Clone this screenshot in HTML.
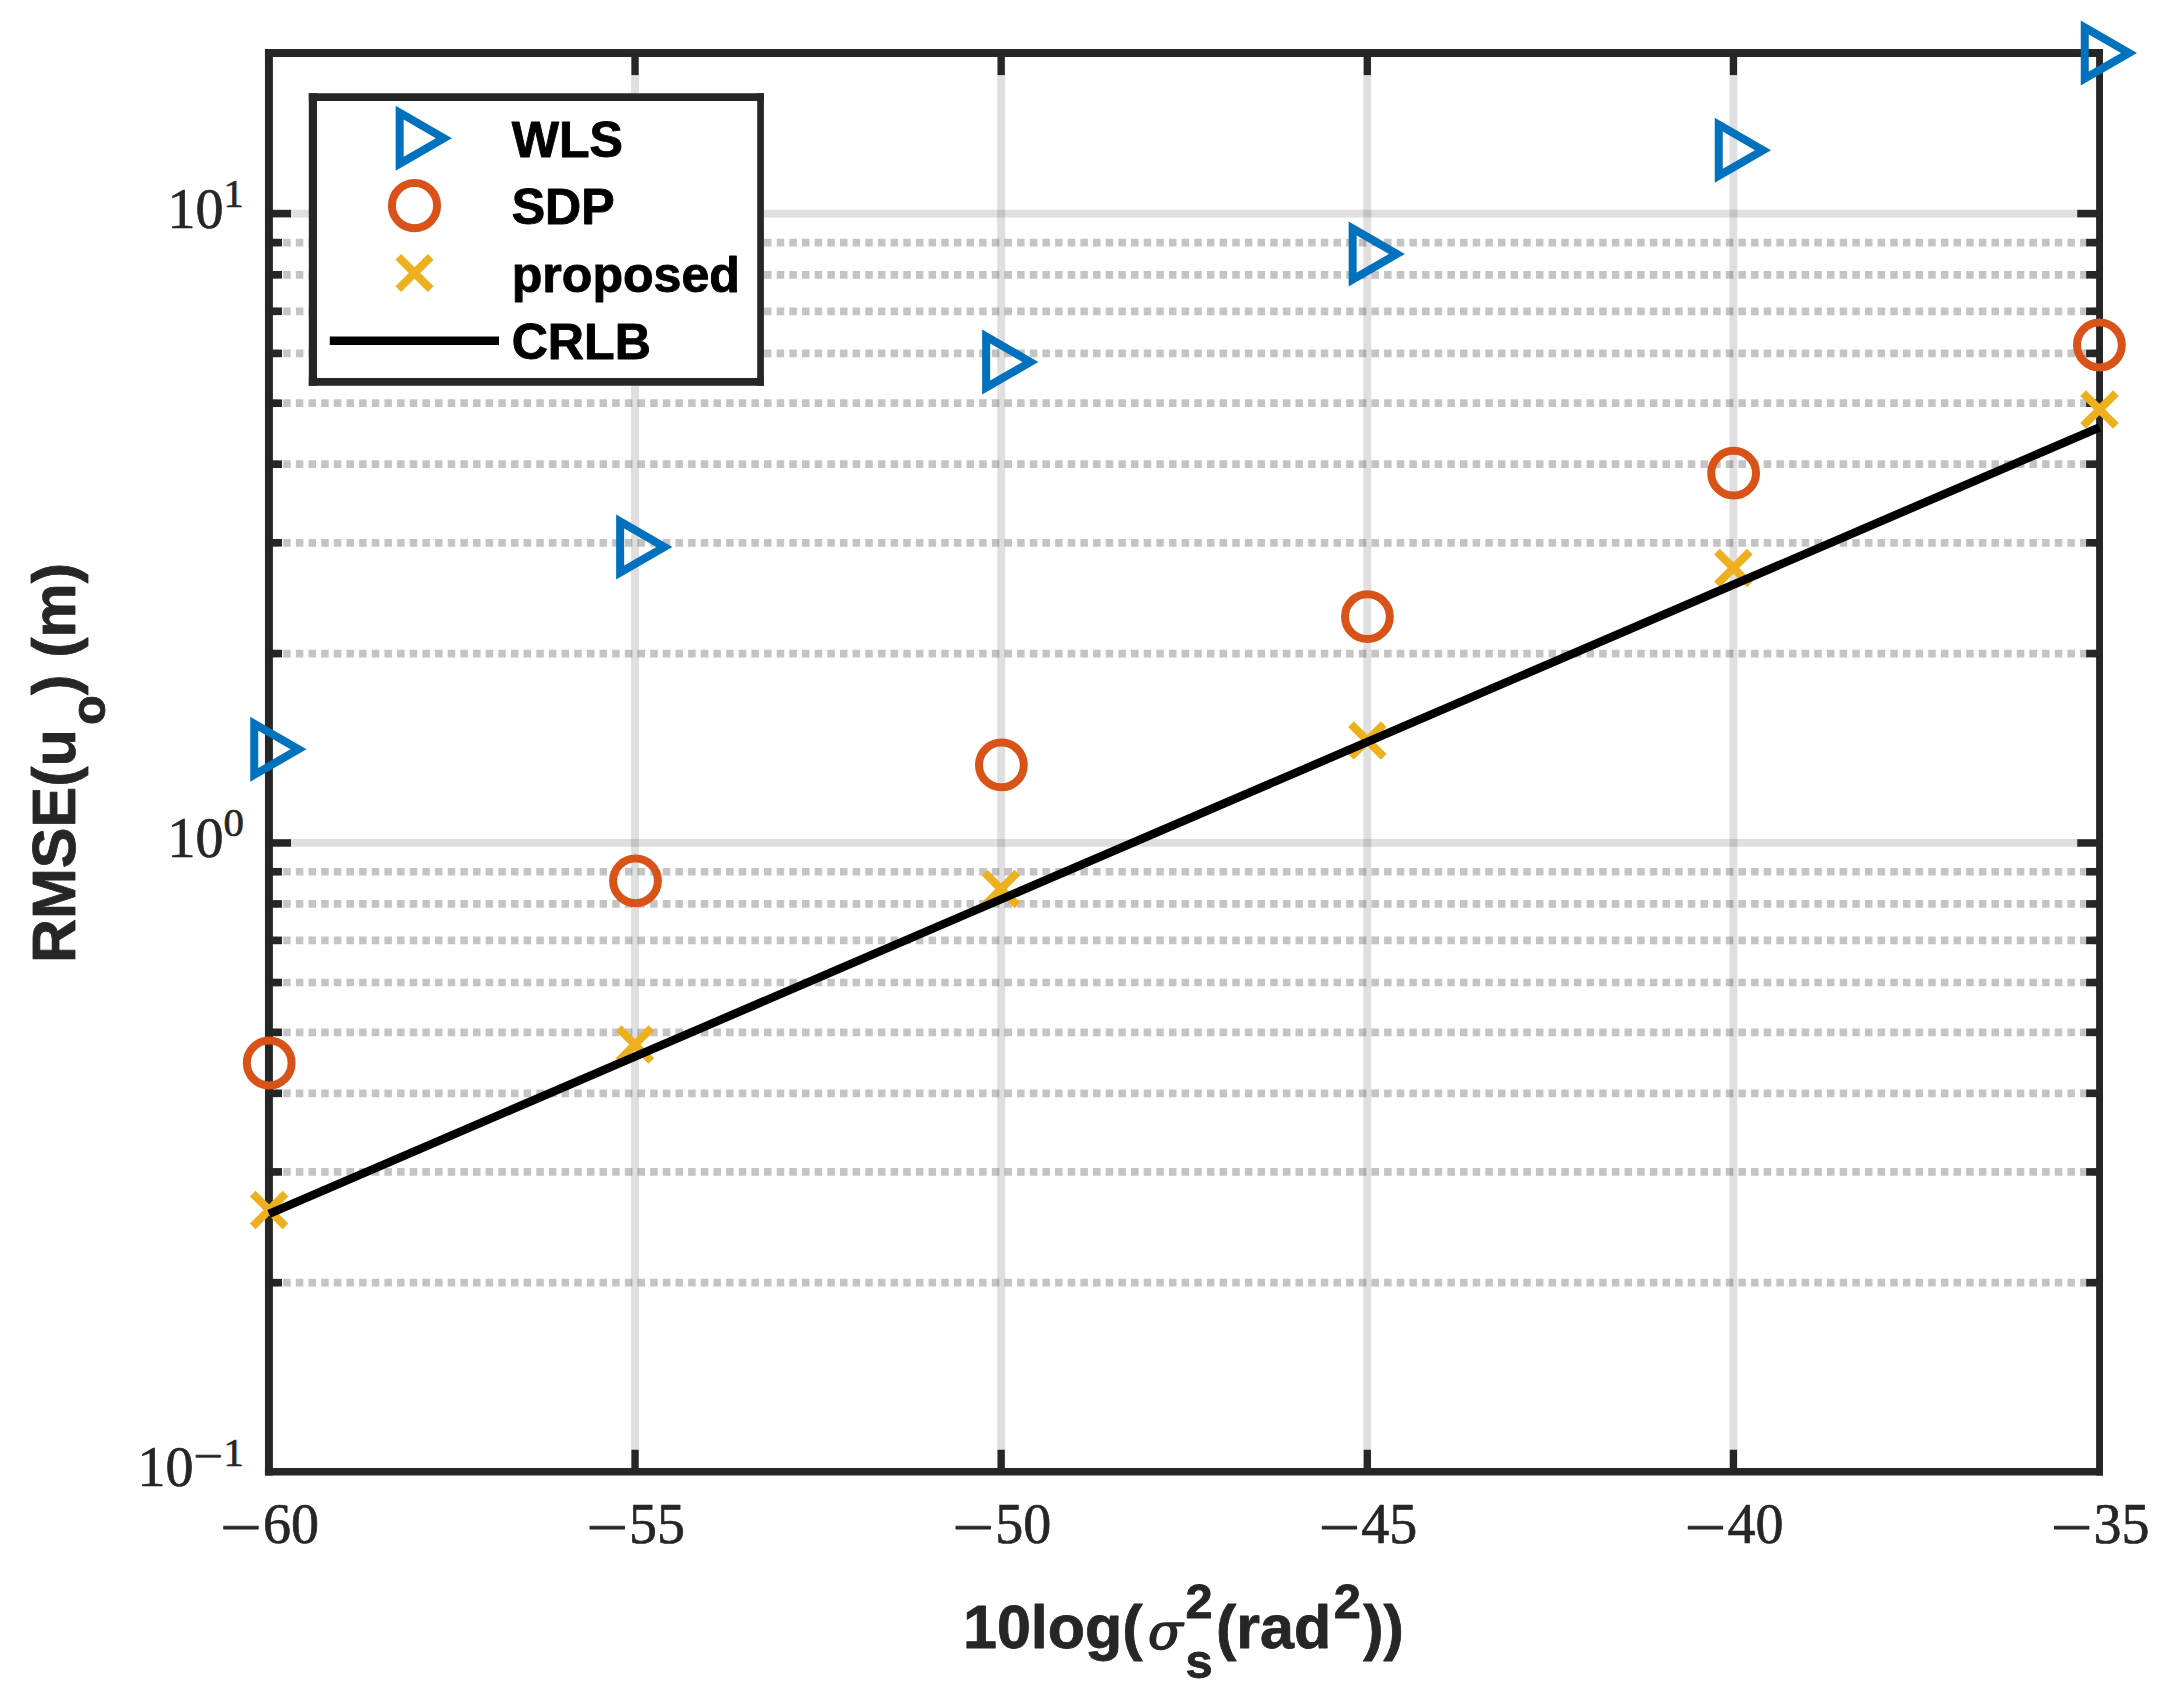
<!DOCTYPE html>
<html lang="en"><head><meta charset="utf-8"><title>RMSE vs noise</title>
<style>
html,body{margin:0;padding:0;background:#fff;}
body{width:2171px;height:1702px;overflow:hidden;}
svg{display:block;}
.tk{font-family:"Liberation Serif","DejaVu Serif",serif;fill:#262626;stroke:#262626;stroke-width:0.7px;stroke-linejoin:round;}
.lb{font-family:"Liberation Sans","DejaVu Sans",sans-serif;font-weight:bold;fill:#262626;stroke:#262626;stroke-width:0.8px;stroke-linejoin:round;}
.lg{font-family:"Liberation Sans","DejaVu Sans",sans-serif;font-weight:bold;fill:#000;stroke:#000;stroke-width:0.9px;stroke-linejoin:round;font-size:50.1px;}
.sg{font-family:"DejaVu Serif","Liberation Serif",serif;font-style:italic;font-weight:normal;font-size:51px;stroke-width:1.5px;}
</style></head><body>
<svg width="2171" height="1702" viewBox="0 0 2171 1702">
<rect x="0" y="0" width="2171" height="1702" fill="#fff"/>
<g id="grid" fill="none" stroke="#262626">
<line x1="635.05" y1="53.00" x2="635.05" y2="1471.85" stroke-width="7.9" stroke-opacity="0.15"/>
<line x1="1001.18" y1="53.00" x2="1001.18" y2="1471.85" stroke-width="7.9" stroke-opacity="0.15"/>
<line x1="1367.30" y1="53.00" x2="1367.30" y2="1471.85" stroke-width="7.9" stroke-opacity="0.15"/>
<line x1="1733.43" y1="53.00" x2="1733.43" y2="1471.85" stroke-width="7.9" stroke-opacity="0.15"/>
<line x1="268.93" y1="213.60" x2="2099.55" y2="213.60" stroke-width="7.7" stroke-opacity="0.15"/>
<line x1="268.93" y1="842.95" x2="2099.55" y2="842.95" stroke-width="7.7" stroke-opacity="0.15"/>
<line x1="270.55" y1="1282.69" x2="2099.55" y2="1282.69" stroke-width="7.7" stroke-opacity="0.27" stroke-dasharray="7.500 5.154"/>
<line x1="270.55" y1="1171.91" x2="2099.55" y2="1171.91" stroke-width="7.7" stroke-opacity="0.27" stroke-dasharray="7.500 5.154"/>
<line x1="270.55" y1="1093.30" x2="2099.55" y2="1093.30" stroke-width="7.7" stroke-opacity="0.27" stroke-dasharray="7.500 5.154"/>
<line x1="270.55" y1="1032.34" x2="2099.55" y2="1032.34" stroke-width="7.7" stroke-opacity="0.27" stroke-dasharray="7.500 5.154"/>
<line x1="270.55" y1="982.52" x2="2099.55" y2="982.52" stroke-width="7.7" stroke-opacity="0.27" stroke-dasharray="7.500 5.154"/>
<line x1="270.55" y1="940.40" x2="2099.55" y2="940.40" stroke-width="7.7" stroke-opacity="0.27" stroke-dasharray="7.500 5.154"/>
<line x1="270.55" y1="903.92" x2="2099.55" y2="903.92" stroke-width="7.7" stroke-opacity="0.27" stroke-dasharray="7.500 5.154"/>
<line x1="270.55" y1="871.74" x2="2099.55" y2="871.74" stroke-width="7.7" stroke-opacity="0.27" stroke-dasharray="7.500 5.154"/>
<line x1="270.55" y1="653.56" x2="2099.55" y2="653.56" stroke-width="7.7" stroke-opacity="0.27" stroke-dasharray="7.500 5.154"/>
<line x1="270.55" y1="542.78" x2="2099.55" y2="542.78" stroke-width="7.7" stroke-opacity="0.27" stroke-dasharray="7.500 5.154"/>
<line x1="270.55" y1="464.18" x2="2099.55" y2="464.18" stroke-width="7.7" stroke-opacity="0.27" stroke-dasharray="7.500 5.154"/>
<line x1="270.55" y1="403.21" x2="2099.55" y2="403.21" stroke-width="7.7" stroke-opacity="0.27" stroke-dasharray="7.500 5.154"/>
<line x1="270.55" y1="353.40" x2="2099.55" y2="353.40" stroke-width="7.7" stroke-opacity="0.27" stroke-dasharray="7.500 5.154"/>
<line x1="270.55" y1="311.28" x2="2099.55" y2="311.28" stroke-width="7.7" stroke-opacity="0.27" stroke-dasharray="7.500 5.154"/>
<line x1="270.55" y1="274.79" x2="2099.55" y2="274.79" stroke-width="7.7" stroke-opacity="0.27" stroke-dasharray="7.500 5.154"/>
<line x1="270.55" y1="242.61" x2="2099.55" y2="242.61" stroke-width="7.7" stroke-opacity="0.27" stroke-dasharray="7.500 5.154"/>
</g>
<g id="axes" fill="none" stroke="#262626" stroke-linecap="butt">
<line x1="264.95" y1="52.98" x2="2103.0" y2="52.98" stroke-width="7.85"/>
<line x1="264.95" y1="1471.85" x2="2103.0" y2="1471.85" stroke-width="7.5"/>
<line x1="268.93" y1="49.05" x2="268.93" y2="1475.6" stroke-width="7.95"/>
<line x1="2099.55" y1="49.05" x2="2099.55" y2="1475.6" stroke-width="6.9"/>
<line x1="635.05" y1="1471.85" x2="635.05" y2="1449.75" stroke-width="7.3"/>
<line x1="635.05" y1="53.00" x2="635.05" y2="75.10" stroke-width="7.3"/>
<line x1="1001.18" y1="1471.85" x2="1001.18" y2="1449.75" stroke-width="7.3"/>
<line x1="1001.18" y1="53.00" x2="1001.18" y2="75.10" stroke-width="7.3"/>
<line x1="1367.30" y1="1471.85" x2="1367.30" y2="1449.75" stroke-width="7.3"/>
<line x1="1367.30" y1="53.00" x2="1367.30" y2="75.10" stroke-width="7.3"/>
<line x1="1733.43" y1="1471.85" x2="1733.43" y2="1449.75" stroke-width="7.3"/>
<line x1="1733.43" y1="53.00" x2="1733.43" y2="75.10" stroke-width="7.3"/>
<line x1="268.93" y1="213.60" x2="291.03" y2="213.60" stroke-width="7.5"/>
<line x1="2099.55" y1="213.60" x2="2077.25" y2="213.60" stroke-width="7.5"/>
<line x1="268.93" y1="842.95" x2="291.03" y2="842.95" stroke-width="7.5"/>
<line x1="2099.55" y1="842.95" x2="2077.25" y2="842.95" stroke-width="7.5"/>
<line x1="268.93" y1="1282.69" x2="282.03" y2="1282.69" stroke-width="7.6"/>
<line x1="2099.55" y1="1282.69" x2="2086.15" y2="1282.69" stroke-width="7.6"/>
<line x1="268.93" y1="1171.91" x2="282.03" y2="1171.91" stroke-width="7.6"/>
<line x1="2099.55" y1="1171.91" x2="2086.15" y2="1171.91" stroke-width="7.6"/>
<line x1="268.93" y1="1093.30" x2="282.03" y2="1093.30" stroke-width="7.6"/>
<line x1="2099.55" y1="1093.30" x2="2086.15" y2="1093.30" stroke-width="7.6"/>
<line x1="268.93" y1="1032.34" x2="282.03" y2="1032.34" stroke-width="7.6"/>
<line x1="2099.55" y1="1032.34" x2="2086.15" y2="1032.34" stroke-width="7.6"/>
<line x1="268.93" y1="982.52" x2="282.03" y2="982.52" stroke-width="7.6"/>
<line x1="2099.55" y1="982.52" x2="2086.15" y2="982.52" stroke-width="7.6"/>
<line x1="268.93" y1="940.40" x2="282.03" y2="940.40" stroke-width="7.6"/>
<line x1="2099.55" y1="940.40" x2="2086.15" y2="940.40" stroke-width="7.6"/>
<line x1="268.93" y1="903.92" x2="282.03" y2="903.92" stroke-width="7.6"/>
<line x1="2099.55" y1="903.92" x2="2086.15" y2="903.92" stroke-width="7.6"/>
<line x1="268.93" y1="871.74" x2="282.03" y2="871.74" stroke-width="7.6"/>
<line x1="2099.55" y1="871.74" x2="2086.15" y2="871.74" stroke-width="7.6"/>
<line x1="268.93" y1="653.56" x2="282.03" y2="653.56" stroke-width="7.6"/>
<line x1="2099.55" y1="653.56" x2="2086.15" y2="653.56" stroke-width="7.6"/>
<line x1="268.93" y1="542.78" x2="282.03" y2="542.78" stroke-width="7.6"/>
<line x1="2099.55" y1="542.78" x2="2086.15" y2="542.78" stroke-width="7.6"/>
<line x1="268.93" y1="464.18" x2="282.03" y2="464.18" stroke-width="7.6"/>
<line x1="2099.55" y1="464.18" x2="2086.15" y2="464.18" stroke-width="7.6"/>
<line x1="268.93" y1="403.21" x2="282.03" y2="403.21" stroke-width="7.6"/>
<line x1="2099.55" y1="403.21" x2="2086.15" y2="403.21" stroke-width="7.6"/>
<line x1="268.93" y1="353.40" x2="282.03" y2="353.40" stroke-width="7.6"/>
<line x1="2099.55" y1="353.40" x2="2086.15" y2="353.40" stroke-width="7.6"/>
<line x1="268.93" y1="311.28" x2="282.03" y2="311.28" stroke-width="7.6"/>
<line x1="2099.55" y1="311.28" x2="2086.15" y2="311.28" stroke-width="7.6"/>
<line x1="268.93" y1="274.79" x2="282.03" y2="274.79" stroke-width="7.6"/>
<line x1="2099.55" y1="274.79" x2="2086.15" y2="274.79" stroke-width="7.6"/>
<line x1="268.93" y1="242.61" x2="282.03" y2="242.61" stroke-width="7.6"/>
<line x1="2099.55" y1="242.61" x2="2086.15" y2="242.61" stroke-width="7.6"/>
</g>
<g id="wls" fill="none" stroke="#0072BD" stroke-width="8.0" stroke-linejoin="miter" stroke-miterlimit="10">
<path d="M298.50 749.30L254.25 723.75L254.25 774.85Z"/>
<path d="M664.40 547.00L620.15 521.45L620.15 572.55Z"/>
<path d="M1030.40 362.00L986.15 336.45L986.15 387.55Z"/>
<path d="M1396.90 254.00L1352.65 228.45L1352.65 279.55Z"/>
<path d="M1763.00 150.20L1718.75 124.65L1718.75 175.75Z"/>
<path d="M2129.00 53.00L2084.75 27.45L2084.75 78.55Z"/>
</g>
<g id="sdp" fill="none" stroke="#D95319" stroke-width="8.0">
<circle cx="269.20" cy="1063.00" r="22.4"/>
<circle cx="635.50" cy="880.80" r="22.4"/>
<circle cx="1001.40" cy="764.90" r="22.4"/>
<circle cx="1367.40" cy="616.70" r="22.4"/>
<circle cx="1733.60" cy="473.20" r="22.4"/>
<circle cx="2099.40" cy="345.00" r="22.4"/>
</g>
<g id="prop" fill="none" stroke="#EDB120" stroke-width="8.0" stroke-linecap="butt">
<path d="M252.67 1193.60L285.47 1226.40M252.67 1226.40L285.47 1193.60"/>
<path d="M618.50 1028.20L651.30 1061.00M618.50 1061.00L651.30 1028.20"/>
<path d="M984.60 872.55L1017.40 905.35M984.60 905.35L1017.40 872.55"/>
<path d="M1350.90 724.10L1383.70 756.90M1350.90 756.90L1383.70 724.10"/>
<path d="M1717.00 551.60L1749.80 584.40M1717.00 584.40L1749.80 551.60"/>
<path d="M2083.10 393.10L2115.90 425.90M2083.10 425.90L2115.90 393.10"/>
</g>
<line id="crlb" x1="269.0" y1="1213.8" x2="2099.6" y2="427.3" stroke="#000" stroke-width="8.4"/>
<g id="legend">
<rect x="309" y="93.5" width="454.5" height="292" fill="#fff"/>
<g stroke="#262626" fill="none">
<line x1="308.8" y1="97.15" x2="763.9" y2="97.15" stroke-width="7.7"/>
<line x1="308.8" y1="381.9" x2="763.9" y2="381.9" stroke-width="7.8"/>
<line x1="312.9" y1="93.3" x2="312.9" y2="385.8" stroke-width="8.2"/>
<line x1="760.55" y1="93.3" x2="760.55" y2="385.8" stroke-width="6.7"/>
</g>
<g fill="none" stroke="#0072BD" stroke-width="8.0" stroke-miterlimit="10"><path d="M443.90 138.20L399.65 112.65L399.65 163.75Z"/></g>
<circle cx="414.5" cy="205.6" r="22.6" fill="none" stroke="#D95319" stroke-width="8.0"/>
<g fill="none" stroke="#EDB120" stroke-width="8.0"><path d="M398.30 256.80L430.70 289.20M398.30 289.20L430.70 256.80"/></g>
<line x1="329.8" y1="340.7" x2="499.0" y2="340.7" stroke="#000" stroke-width="8.4"/>
<text class="lg" x="511.7" y="156.9">WLS</text>
<text class="lg" x="511.7" y="224.3">SDP</text>
<text class="lg" x="511.7" y="291.8">proposed</text>
<text class="lg" x="511.7" y="359.0">CRLB</text>
</g>
<g id="ticklabels">
<text class="tk" font-size="58.0px"><tspan x="220.12" y="1546.7" textLength="41.8" lengthAdjust="spacingAndGlyphs">−</tspan><tspan x="262.99" y="1543.2" textLength="56.0" lengthAdjust="spacingAndGlyphs">60</tspan></text>
<text class="tk" font-size="58.0px"><tspan x="586.24" y="1546.7" textLength="41.8" lengthAdjust="spacingAndGlyphs">−</tspan><tspan x="629.12" y="1543.2" textLength="56.0" lengthAdjust="spacingAndGlyphs">55</tspan></text>
<text class="tk" font-size="58.0px"><tspan x="952.37" y="1546.7" textLength="41.8" lengthAdjust="spacingAndGlyphs">−</tspan><tspan x="995.24" y="1543.2" textLength="56.0" lengthAdjust="spacingAndGlyphs">50</tspan></text>
<text class="tk" font-size="58.0px"><tspan x="1318.49" y="1546.7" textLength="41.8" lengthAdjust="spacingAndGlyphs">−</tspan><tspan x="1361.36" y="1543.2" textLength="56.0" lengthAdjust="spacingAndGlyphs">45</tspan></text>
<text class="tk" font-size="58.0px"><tspan x="1684.61" y="1546.7" textLength="41.8" lengthAdjust="spacingAndGlyphs">−</tspan><tspan x="1727.49" y="1543.2" textLength="56.0" lengthAdjust="spacingAndGlyphs">40</tspan></text>
<text class="tk" font-size="58.0px"><tspan x="2050.74" y="1546.7" textLength="41.8" lengthAdjust="spacingAndGlyphs">−</tspan><tspan x="2093.61" y="1543.2" textLength="56.0" lengthAdjust="spacingAndGlyphs">35</tspan></text>
<text class="tk" font-size="58.0px"><tspan x="167.6" y="228.2" textLength="56.0" lengthAdjust="spacingAndGlyphs">10</tspan><tspan font-size="40.8px" x="223.5" y="207.4">1</tspan></text>
<text class="tk" font-size="58.0px"><tspan x="167.6" y="857.2" textLength="56.0" lengthAdjust="spacingAndGlyphs">10</tspan><tspan font-size="40.8px" x="223.5" y="836.4">0</tspan></text>
<text class="tk" font-size="58.0px"><tspan x="137.6" y="1486.3" textLength="56.0" lengthAdjust="spacingAndGlyphs">10</tspan><tspan font-size="40.8px" x="193.4" y="1469.9" textLength="29.4" lengthAdjust="spacingAndGlyphs">−</tspan><tspan font-size="40.8px" x="223.5" y="1465.5">1</tspan></text>
</g>
<g id="labels">
<text class="lb" font-size="61.0px"><tspan x="963.0" y="1648.0">10log(</tspan><tspan class="sg" x="1148.0" y="1648.6">σ</tspan><tspan font-size="48.8px" x="1185.6" y="1618.3">2</tspan><tspan font-size="48.8px" x="1185.6" y="1677.6">s</tspan><tspan x="1216.0" y="1648.0">(rad</tspan><tspan font-size="48.8px" x="1333.8" y="1618.3">2</tspan><tspan x="1363.3" y="1648.0">))</tspan></text>
<g transform="translate(75.3,963.0) rotate(-90)">
<text class="lb" font-size="61.0px"><tspan x="0" y="0">RMSE(u</tspan><tspan font-size="48.8px" x="238.0" y="29.8">o</tspan><tspan x="268.0" y="0">) (m)</tspan></text>
</g>
</g>
</svg>
</body></html>
